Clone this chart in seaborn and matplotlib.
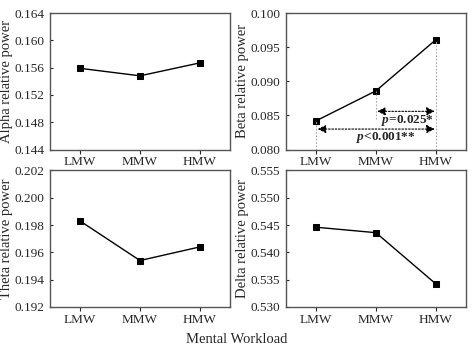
import numpy as np
import pandas as pd
import matplotlib
matplotlib.use("Agg")
import matplotlib.pyplot as plt
import seaborn as sns

# mean relative power per workload level
levels = ["LMW", "MMW", "HMW"]
alpha = [0.1559, 0.1548, 0.1567]
beta = [0.0842, 0.0886, 0.0961]
theta = [0.1983, 0.1954, 0.1964]
delta = [0.5446, 0.5436, 0.5342]

panels = [
    ("Alpha relative power", alpha, (0.144, 0.164), [0.144, 0.148, 0.152, 0.156, 0.160, 0.164]),
    ("Beta relative power", beta, (0.080, 0.100), [0.080, 0.085, 0.090, 0.095, 0.100]),
    ("Theta relative power", theta, (0.192, 0.202), [0.192, 0.194, 0.196, 0.198, 0.200, 0.202]),
    ("Delta relative power", delta, (0.530, 0.555), [0.530, 0.535, 0.540, 0.545, 0.550, 0.555]),
]

sns.set_style("ticks")
plt.rcParams["font.family"] = ["Liberation Serif", "DejaVu Serif"]
plt.rcParams["mathtext.fontset"] = "custom"
plt.rcParams["mathtext.it"] = "Liberation Serif:italic:bold"

fig, axes = plt.subplots(2, 2, figsize=(4.74, 3.52), dpi=100)
plt.subplots_adjust(left=0.1055, right=0.983, top=0.963, bottom=0.128, wspace=0.311, hspace=0.153)

for ax, (label, vals, ylim, yt) in zip(axes.flat, panels):
    df = pd.DataFrame({"level": levels, "value": vals})
    sns.lineplot(data=df, x="level", y="value", ax=ax, color="black", lw=1.0,
                 marker="s", markersize=4.5, markeredgecolor="black", sort=False)
    ax.set_xlim(-0.5, 2.5)
    ax.set_ylim(*ylim)
    ax.set_yticks(yt)
    ax.set_yticklabels([f"{v:.3f}" for v in yt])
    ax.set_xlabel("")
    ax.set_ylabel(label, fontsize=10.5, labelpad=1)
    ax.tick_params(axis="x", direction="out", length=3, labelsize=9.5, pad=2)
    ax.tick_params(axis="y", direction="in", length=2.5, labelsize=9.5, pad=4)
    for s in ax.spines.values():
        s.set_color("#555555")
        s.set_linewidth(1.0)

# significance annotations on beta panel
ax = axes[0, 1]
dot = dict(color="#aaaaaa", lw=0.8, ls=(0, (1.5, 1.5)))
ax.plot([0, 0], [0.080, beta[0]], **dot)
ax.plot([1, 1], [0.0845, beta[1]], **dot)
ax.plot([2, 2], [0.080, beta[2]], **dot)
arr = dict(arrowstyle="<|-|>,head_length=0.6,head_width=0.3", color="black", lw=0.8,
           ls=(0, (1.5, 1.5)), mutation_scale=8, shrinkA=0, shrinkB=0)
ax.annotate("", xy=(1.02, 0.0856), xytext=(1.98, 0.0856), arrowprops=arr)
ax.annotate("", xy=(0.03, 0.0830), xytext=(1.98, 0.0830), arrowprops=arr)
ax.text(1.52, 0.0843, r"$p$=0.025*", ha="center", va="center", fontsize=9.5, fontweight="bold")
ax.text(1.17, 0.0817, r"$p$<0.001**", ha="center", va="center", fontsize=9.5, fontweight="bold")

fig.text(0.5, 0.018, "Mental Workload", ha="center", va="bottom", fontsize=10.5)
fig.savefig("out.png", dpi=100)
